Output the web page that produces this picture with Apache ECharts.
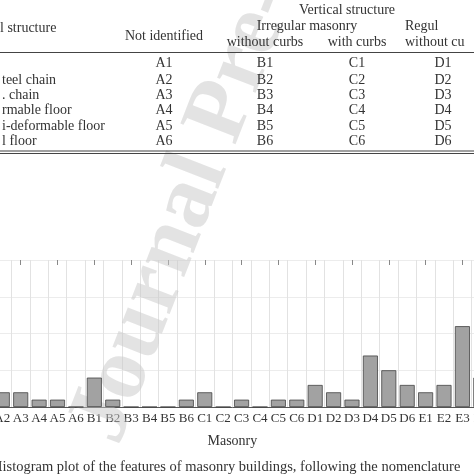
<!DOCTYPE html>
<html>
<head>
<meta charset="utf-8">
<script src="https://cdn.jsdelivr.net/npm/echarts@6/dist/echarts.min.js"></script>
<style>html,body{margin:0;padding:0;background:#fff;overflow:hidden;width:474px;height:474px}
#c{width:518px;height:474px;margin-left:-27px}</style>
</head>
<body>
<div id="c"></div>
<script>
// masonry classes and number of buildings per class
var categories = ['A1','A2','A3','A4','A5','A6','B1','B2','B3','B4','B5','B6',
  'C1','C2','C3','C4','C5','C6','D1','D2','D3','D4','D5','D6','E1','E2','E3','E4'];
var counts = [2, 2, 2, 1, 1, 0, 4, 1, 0, 0, 0, 1,
  2, 0, 1, 0, 1, 1, 3, 2, 1, 7, 5, 3, 2, 3, 11, 4];

// table rows (left column is cropped in the picture)
var rowLabels = ['', 'teel chain', '. chain', 'rmable floor', 'i-deformable floor', 'l floor'];
var colLetters = ['A', 'B', 'C', 'D'];
var colX = [164, 265, 357, 443];
var rowY = [63, 80, 95, 110, 126, 141];

var SERIF = '"Liberation Serif", "DejaVu Serif", serif';
var ink = '#333';
var SHIFT = 27; // the chart div starts 27px left of the page

function txt(x, y, s, align, size) {
  return { type: 'text', z: 10, style: { text: s, x: x, y: y, fill: ink,
    font: (size || 14) + 'px ' + SERIF, textAlign: align || 'left', textVerticalAlign: 'middle' } };
}

var els = [];
// watermark
els.push({ type: 'text', rotation: 1.2, x: 222, y: 115, z: 1,
  style: { text: 'Journal Pre-proof', fill: 'rgba(200,200,200,0.5)',
    font: 'bold 90px ' + SERIF, textAlign: 'center', textVerticalAlign: 'middle' } });
// header
els.push(txt(347, 10, 'Vertical structure', 'center'));
els.push(txt(0, 28, 'l structure'));
els.push(txt(164, 36, 'Not identified', 'center'));
els.push(txt(307, 26, 'Irregular masonry', 'center'));
els.push(txt(405, 26, 'Regul'));
els.push(txt(265, 42, 'without curbs', 'center'));
els.push(txt(357, 42, 'with curbs', 'center'));
els.push(txt(405, 42, 'without cu'));
els.push({ type: 'line', shape: { x1: 0, y1: 52.5, x2: 474, y2: 52.5 }, style: { stroke: '#444', lineWidth: 1.2 }, z: 10 });
els.push({ type: 'line', shape: { x1: 0, y1: 151, x2: 474, y2: 151 }, style: { stroke: '#444', lineWidth: 1.2 }, z: 10 });
els.push({ type: 'line', shape: { x1: 0, y1: 153.5, x2: 474, y2: 153.5 }, style: { stroke: '#444', lineWidth: 1.2 }, z: 10 });
rowY.forEach(function (y, i) {
  els.push(txt(2, y, rowLabels[i]));
  colLetters.forEach(function (L, j) { els.push(txt(colX[j], y, L + (i + 1), 'center')); });
});
// caption
els.push(txt(-8, 467, 'Histogram plot of the features of masonry buildings, following the nomenclature', 'left', 14.5));

var chart = echarts.init(document.getElementById('c'));
chart.setOption({
  animation: false,
  graphic: [{ type: 'group', x: SHIFT, y: 0, children: els }],
  grid: { left: 0, right: 0, top: 260, bottom: 67 },
  xAxis: [{
    type: 'category', data: categories, position: 'bottom',
    axisLine: { show: true, lineStyle: { color: '#555' } },
    axisTick: { show: false },
    axisLabel: { color: ink, fontFamily: SERIF, fontSize: 13, margin: 5, interval: 0 },
    splitLine: { show: true, interval: 0, lineStyle: { color: '#e2e2e2' } },
    name: 'Masonry', nameLocation: 'middle', nameGap: 27,
    nameTextStyle: { color: ink, fontFamily: SERIF, fontSize: 14, padding: [0, 0, 0, 0] }
  }, {
    type: 'category', data: categories, position: 'top',
    axisLine: { show: false },
    axisTick: { show: true, inside: true, alignWithLabel: true, length: 5, lineStyle: { color: '#888' } },
    axisLabel: { show: false }
  }],
  yAxis: {
    type: 'value', min: 0, max: 20, interval: 5,
    axisLine: { show: false }, axisTick: { show: false }, axisLabel: { show: false },
    splitLine: { lineStyle: { color: '#ececec' } }
  },
  series: [{
    type: 'bar', data: counts, barWidth: 15,
    itemStyle: { color: '#a2a2a2', borderColor: '#444', borderWidth: 0.8 }
  }]
});
</script>
</body>
</html>
